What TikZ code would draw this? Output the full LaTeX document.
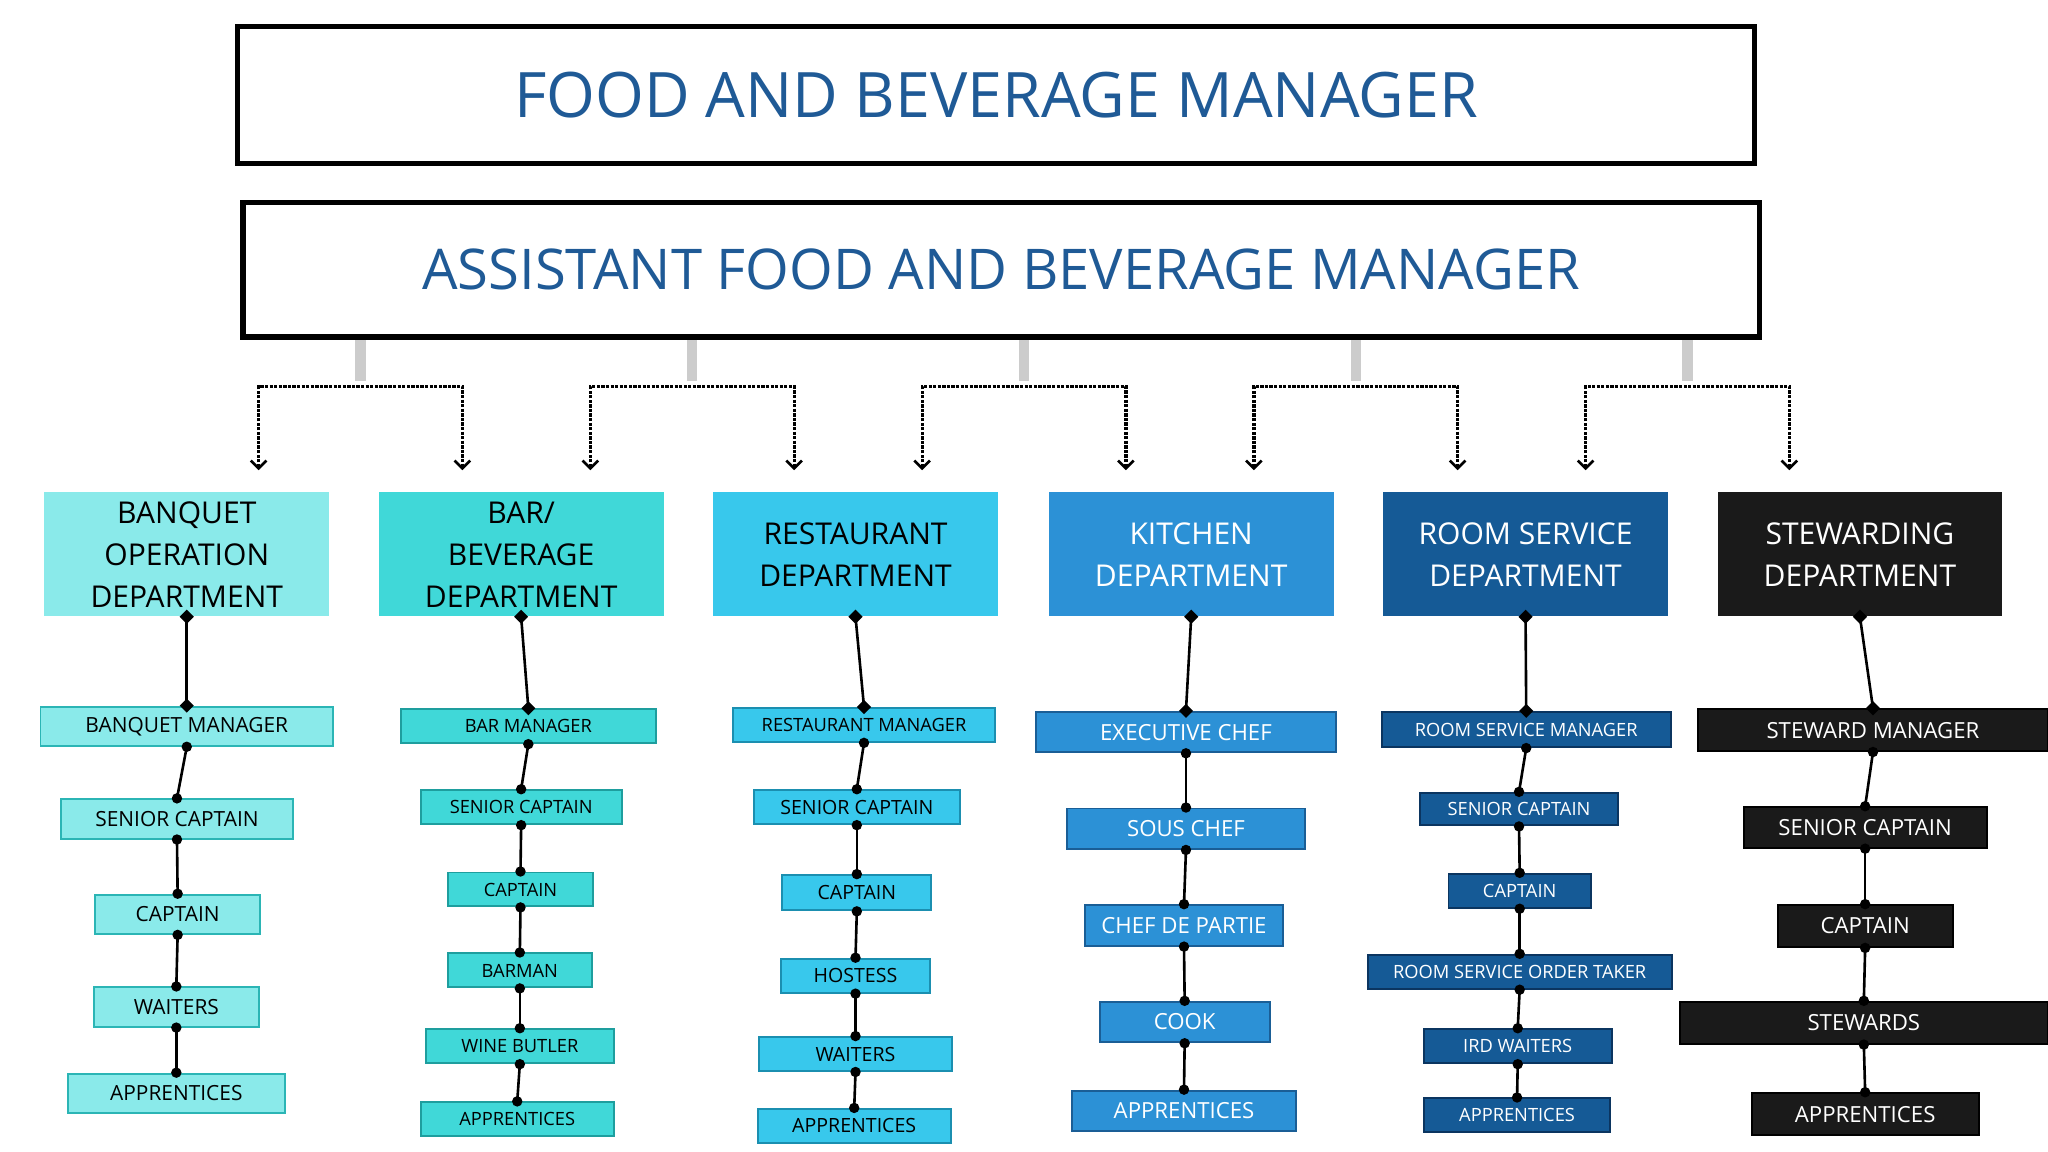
\documentclass[tikz,border=0pt]{standalone}
\usepackage{fontspec}
\setmainfont{Open Sans}
\usetikzlibrary{arrows.meta,shapes.geometric}
\definecolor{tblue}{HTML}{1F5A96}
\definecolor{cA}{HTML}{8AEAEA}\definecolor{bA}{HTML}{2BB5B5}
\definecolor{cB}{HTML}{40D8D8}\definecolor{bB}{HTML}{1E9E9E}
\definecolor{cC}{HTML}{38C8EC}\definecolor{bC}{HTML}{1B8FB0}
\definecolor{cD}{HTML}{2C91D6}\definecolor{bD}{HTML}{1A5E96}
\definecolor{cE}{HTML}{155A96}\definecolor{bE}{HTML}{0B3560}
\definecolor{cF}{HTML}{1A1A1A}\definecolor{bF}{HTML}{000000}
\tikzset{
 bigbox/.style={draw=black,line width=4pt,fill=white,inner sep=0,text=tblue},
 dept/.style={inner sep=0,align=center,font=\fontsize{23}{32}\selectfont},
 itm/.style={inner sep=0,line width=1.5pt,font=\fontsize{16}{18}\selectfont},
 dotarrow/.style={densely dotted,line width=2.5pt,{Straight Barb[length=6pt,width=12pt,line width=2pt]}-{Straight Barb[length=6pt,width=12pt,line width=2pt]}},
 lnk/.style={line width=2pt,black},
}
\newcommand\bx[7]{\node[#7,minimum width={(#4-#2)*1pt},minimum height={(#5-#3)*1pt}] (#1) at ({(#2+#4)/2},{(#3+#5)/2}) {#6};}
\newcommand\dlink[2]{\draw[lnk] (#1.south) -- (#2.north);
 \node[diamond,fill=black,inner sep=0,minimum size=11pt] at (#1.south) {};
 \node[diamond,fill=black,inner sep=0,minimum size=11pt] at (#2.north) {};}
\newcommand\clink[2]{\draw[lnk] (#1.south) -- (#2.north);
 \fill (#1.south) circle (4pt); \fill (#2.north) circle (4pt);}
\begin{document}
\begin{tikzpicture}[x=1pt,y=-1pt]
\useasboundingbox (0,0) rectangle (1568,882);
\bx{fbm}{182}{20}{1343}{125}{\fontsize{48}{50}\selectfont FOOD AND BEVERAGE MANAGER}{bigbox}
\bx{afbm}{186}{155}{1347}{258}{\fontsize{43}{45}\selectfont ASSISTANT FOOD AND BEVERAGE MANAGER}{bigbox}
\foreach \s/\a/\b in {276/198/354,530/452/608,784/706/862,1038/960/1116,1292/1214/1370}{
 \fill[gray!40] (\s-4,260) rectangle (\s+4,292);
 \draw[dotarrow] (\a,360) -- (\a,296) -- (\b,296) -- (\b,360);
}
% departments
\bx{d1}{34}{377}{252}{472}{BANQUET\\OPERATION\\DEPARTMENT}{dept,fill=cA,text depth=0pt}
\bx{d2}{290}{377}{508}{472}{BAR/\\BEVERAGE\\DEPARTMENT}{dept,fill=cB}
\bx{d3}{546}{377}{764}{472}{RESTAURANT\\DEPARTMENT}{dept,fill=cC}
\bx{d4}{803}{377}{1021}{472}{KITCHEN\\DEPARTMENT}{dept,fill=cD,text=white}
\bx{d5}{1059}{377}{1277}{472}{ROOM SERVICE\\DEPARTMENT}{dept,fill=cE,text=white}
\bx{d6}{1315}{377}{1533}{472}{STEWARDING\\DEPARTMENT}{dept,fill=cF,text=white}
% banquet
\bx{a1}{31}{541}{255}{571}{BANQUET MANAGER}{itm,fill=cA,draw=bA}
\bx{a2}{47}{612}{224}{642}{SENIOR CAPTAIN}{itm,fill=cA,draw=bA}
\bx{a3}{73}{685}{199}{715}{CAPTAIN}{itm,fill=cA,draw=bA}
\bx{a4}{72}{756}{198}{786}{WAITERS}{itm,fill=cA,draw=bA}
\bx{a5}{52}{822}{218}{852}{APPRENTICES}{itm,fill=cA,draw=bA}
% bar
\bx{b1}{307}{543}{502}{569}{\fontsize{14}{16}\selectfont BAR MANAGER}{itm,fill=cB,draw=bB}
\bx{b2}{322}{605}{476}{631}{\fontsize{14}{16}\selectfont SENIOR CAPTAIN}{itm,fill=cB,draw=bB}
\bx{b3}{343}{668}{454}{694}{\fontsize{14}{16}\selectfont CAPTAIN}{itm,fill=cB,draw=bB}
\bx{b4}{343}{730}{453}{756}{\fontsize{14}{16}\selectfont BARMAN}{itm,fill=cB,draw=bB}
\bx{b5}{326}{788}{470}{814}{\fontsize{14}{16}\selectfont WINE BUTLER}{itm,fill=cB,draw=bB}
\bx{b6}{322}{844}{470}{870}{\fontsize{14}{16}\selectfont APPRENTICES}{itm,fill=cB,draw=bB}
% restaurant
\bx{c1}{561}{542}{762}{568}{\fontsize{14}{16}\selectfont RESTAURANT MANAGER}{itm,fill=cC,draw=bC}
\bx{c2}{577}{605}{735}{631}{\fontsize{15}{16}\selectfont SENIOR CAPTAIN}{itm,fill=cC,draw=bC}
\bx{c3}{599}{670}{713}{697}{\fontsize{15}{16}\selectfont CAPTAIN}{itm,fill=cC,draw=bC}
\bx{c4}{598}{734}{712}{760}{\fontsize{15}{16}\selectfont HOSTESS}{itm,fill=cC,draw=bC}
\bx{c5}{581}{794}{729}{820}{\fontsize{15}{16}\selectfont WAITERS}{itm,fill=cC,draw=bC}
\bx{c6}{580}{849}{728}{875}{\fontsize{15}{16}\selectfont APPRENTICES}{itm,fill=cC,draw=bC}
% kitchen
\bx{k1}{793}{545}{1023}{576}{\fontsize{17}{18}\selectfont EXECUTIVE CHEF}{itm,fill=cD,draw=bD,text=white}
\bx{k2}{817}{619}{999}{650}{\fontsize{17}{18}\selectfont SOUS CHEF}{itm,fill=cD,draw=bD,text=white}
\bx{k3}{831}{693}{982}{724}{\fontsize{17}{18}\selectfont CHEF DE PARTIE}{itm,fill=cD,draw=bD,text=white}
\bx{k4}{842}{767}{972}{798}{\fontsize{17}{18}\selectfont COOK}{itm,fill=cD,draw=bD,text=white}
\bx{k5}{821}{835}{992}{866}{\fontsize{17}{18}\selectfont APPRENTICES}{itm,fill=cD,draw=bD,text=white}
% room service
\bx{r1}{1058}{545}{1279}{572}{\fontsize{14}{16}\selectfont ROOM SERVICE MANAGER}{itm,fill=cE,draw=bE,text=white}
\bx{r2}{1087}{607}{1239}{632}{\fontsize{14}{16}\selectfont SENIOR CAPTAIN}{itm,fill=cE,draw=bE,text=white}
\bx{r3}{1109}{669}{1218}{695}{\fontsize{14}{16}\selectfont CAPTAIN}{itm,fill=cE,draw=bE,text=white}
\bx{r4}{1047}{731}{1280}{757}{\fontsize{14}{16}\selectfont ROOM SERVICE ORDER TAKER}{itm,fill=cE,draw=bE,text=white}
\bx{r5}{1090}{788}{1234}{814}{\fontsize{14}{16}\selectfont IRD WAITERS}{itm,fill=cE,draw=bE,text=white}
\bx{r6}{1090}{841}{1233}{867}{\fontsize{14}{16}\selectfont APPRENTICES}{itm,fill=cE,draw=bE,text=white}
% stewarding
\bx{s1}{1300}{543}{1568}{575}{\fontsize{17}{18}\selectfont STEWARD MANAGER}{itm,fill=cF,draw=bF,text=white}
\bx{s2}{1335}{618}{1521}{649}{\fontsize{17}{18}\selectfont SENIOR CAPTAIN}{itm,fill=cF,draw=bF,text=white}
\bx{s3}{1361}{693}{1495}{725}{\fontsize{17}{18}\selectfont CAPTAIN}{itm,fill=cF,draw=bF,text=white}
\bx{s4}{1286}{767}{1568}{799}{\fontsize{17}{18}\selectfont STEWARDS}{itm,fill=cF,draw=bF,text=white}
\bx{s5}{1341}{837}{1515}{869}{\fontsize{17}{18}\selectfont APPRENTICES}{itm,fill=cF,draw=bF,text=white}
% links
\dlink{d1}{a1}\dlink{d2}{b1}\dlink{d3}{c1}\dlink{d4}{k1}\dlink{d5}{r1}\dlink{d6}{s1}
\clink{a1}{a2}\clink{a2}{a3}\clink{a3}{a4}\clink{a4}{a5}
\clink{b1}{b2}\clink{b2}{b3}\clink{b3}{b4}\clink{b4}{b5}\clink{b5}{b6}
\clink{c1}{c2}\clink{c2}{c3}\clink{c3}{c4}\clink{c4}{c5}\clink{c5}{c6}
\clink{k1}{k2}\clink{k2}{k3}\clink{k3}{k4}\clink{k4}{k5}
\clink{r1}{r2}\clink{r2}{r3}\clink{r3}{r4}\clink{r4}{r5}\clink{r5}{r6}
\clink{s1}{s2}\clink{s2}{s3}\clink{s3}{s4}\clink{s4}{s5}
\end{tikzpicture}
\end{document}
